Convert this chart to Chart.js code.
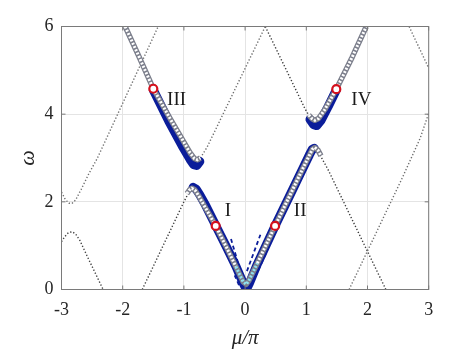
<!DOCTYPE html>
<html><head><meta charset="utf-8">
<script src="https://cdn.jsdelivr.net/npm/chart.js@4.4.1/dist/chart.umd.min.js"></script>
<style>html,body{margin:0;padding:0;background:#fff}</style>
</head><body>
<canvas id="c" width="474" height="355"></canvas>
<script>
// ---- data ----
const xTicks = [-3, -2, -1, 0, 1, 2, 3];
const yTicks = [0, 2, 4, 6];

// thin dotted dispersion curves
const curveLeftUpper = [[-3,2.22],[-2.94,2.06],[-2.88,1.97],[-2.83,1.96],[-2.77,2.04],[-2.68,2.28],[-2.55,2.65],[-2.42,2.98],[-1.42,6.0]];
const curveLeftLower = [[-3,1.09],[-2.95,1.2],[-2.89,1.29],[-2.83,1.32],[-2.77,1.27],[-2.7,1.12],[-2.56,0.7],[-2.32,0.0]];
const curveRiseToPeak = [[-1.68,0],[-1.0,2.0],[-0.94,2.16],[-0.89,2.26],[-0.87,2.3]];
const curveFallFromPeak = [[1.12,3.24],[1.2,3.13],[1.35,2.75],[2.3,0]];
const curveRightRise = [[1.7,0],[2.57,2.55],[2.86,3.45],[3.0,4.02]];
const curveMidRise = [[-0.73,3.0],[-0.62,3.25],[0.33,6.0]];
const curveMidFall = [[0.33,6.0],[0.98,4.12],[1.04,3.98]];
const curveRightTop = [[2.68,6.0],[3.0,5.05]];

// open-circle branches
const chainLower = [[-0.95,2.19],[-0.91,2.27],[-0.87,2.31],[-0.82,2.27],[-0.76,2.14],[-0.68,1.94],[-0.58,1.70],[-0.48,1.45],[-0.30,0.95],[-0.15,0.52],[-0.03,0.17],[0.02,0.12],[0.06,0.2],[0.20,0.6],[0.49,1.45],[0.75,2.2],[0.95,2.78],[1.05,3.06],[1.10,3.2],[1.14,3.24],[1.19,3.18],[1.24,3.05]];
const chainIII = [[-1.96,6.0],[-1.73,5.3],[-1.5,4.58],[-1.23,3.91],[-1.0,3.36],[-0.9,3.12],[-0.83,2.99],[-0.78,2.96],[-0.73,3.0]];
const chainIV = [[1.04,3.98],[1.09,3.9],[1.14,3.86],[1.2,3.9],[1.3,4.1],[1.49,4.57],[1.75,5.3],[1.98,6.0]];

// blue bands
const bandLower = [[-0.85,2.33],[-0.8,2.29],[-0.74,2.16],[-0.66,1.96],[-0.48,1.46],[-0.30,0.96],[-0.15,0.53],[-0.03,0.14],[0.02,0.0],[0.07,0.14],[0.20,0.58],[0.49,1.45],[0.75,2.2],[0.95,2.78],[1.05,3.07],[1.10,3.2],[1.13,3.22]];
const bandIII = [[-1.5,4.55],[-1.25,3.85],[-1.03,3.28],[-0.9,2.97],[-0.84,2.85],[-0.79,2.83],[-0.74,2.92]];
const bandIV = [[1.06,3.88],[1.12,3.76],[1.17,3.74],[1.24,3.86],[1.36,4.18],[1.49,4.55]];

// dashed blue traces near the V
const dashLeftInner = [[-0.05,0.3],[-0.23,1.15]];
const dashRightInner = [[0.03,0.42],[0.25,1.25]];
const dashRightOuter = [[0.12,0.15],[0.36,0.88]];
const dashLeftOuter = [[-0.1,0.1],[-0.17,0.32]];

// red marked points and their labels
const markX = [-0.48, 0.49, -1.5, 1.49];
const markY = [1.45, 1.45, 4.58, 4.57];
const romanText = ['I', 'II', 'III', 'IV'];
const romanX = [-0.28, 0.9, -1.12, 1.9];
const romanY = [1.79, 1.79, 4.33, 4.33];

// ---- build datasets ----
const toPts = a => a.map(p => ({x: p[0], y: p[1]}));
const datasets = [];
function dotted(a, color) {
  datasets.push({data: toPts(a), showLine: true, pointRadius: 0, borderColor: color, borderWidth: 1.4,
    borderDash: [1.3, 2.0], order: 6, clip: 0});
}
[curveLeftUpper, curveRightRise, curveMidRise, curveRightTop].forEach(a => dotted(a, '#6e6e6e'));
[curveLeftLower, curveRiseToPeak, curveFallFromPeak, curveMidFall].forEach(a => dotted(a, '#3c3c3c'));

[bandLower, bandIII, bandIV].forEach(a => datasets.push({data: toPts(a), showLine: true, pointRadius: 0,
  borderColor: '#0b1d9a', borderWidth: 9, borderJoinStyle: 'round', borderCapStyle: 'round', order: 5, clip: 0}));

[dashLeftInner, dashRightInner, dashRightOuter, dashLeftOuter].forEach(a => datasets.push({data: toPts(a), showLine: true,
  pointRadius: 0, borderColor: '#0b1d9a', borderWidth: 1.8, borderDash: [4, 3], order: 4, clip: 0}));

[chainLower, chainIII, chainIV].forEach(a => {
  datasets.push({data: toPts(a), showLine: true, pointRadius: 0, borderColor: '#7c7f8c', borderWidth: 5.5,
    borderJoinStyle: 'round', order: 3, clip: 0});
  datasets.push({data: toPts(a), showLine: true, pointRadius: 0, borderColor: '#ffffff', borderWidth: 3,
    borderDash: [2, 1.6], order: 2, clip: 0,
    segment: {borderColor: c => (c.p0.parsed.y < 0.8 && c.p1.parsed.y < 0.8) ? '#8fe3f2' : '#ffffff'}});
});

datasets.push({data: markX.map((x, i) => ({x, y: markY[i]})), showLine: false, pointRadius: 4, pointBorderWidth: 2.2,
  pointBorderColor: '#d4101c', pointBackgroundColor: '#ffffff', order: 0, clip: false});

// ---- frame, inward ticks and roman labels ----
const framePlugin = {
  id: 'frame',
  afterDatasetsDraw(chart) {
    const {ctx, chartArea: a, scales: {x, y}} = chart;
    ctx.save();
    ctx.strokeStyle = '#7a7a7a';
    ctx.lineWidth = 1;
    ctx.beginPath();
    xTicks.forEach(v => {
      const px = x.getPixelForValue(v);
      ctx.moveTo(px, a.bottom); ctx.lineTo(px, a.bottom - 4);
      ctx.moveTo(px, a.top); ctx.lineTo(px, a.top + 4);
    });
    yTicks.forEach(v => {
      const py = y.getPixelForValue(v);
      ctx.moveTo(a.left, py); ctx.lineTo(a.left + 4, py);
      ctx.moveTo(a.right, py); ctx.lineTo(a.right - 4, py);
    });
    ctx.stroke();
    ctx.strokeRect(a.left, a.top, a.right - a.left, a.bottom - a.top);
    ctx.fillStyle = '#1a1a1a';
    ctx.font = '19px "Liberation Serif"';
    ctx.textAlign = 'center';
    ctx.textBaseline = 'middle';
    romanText.forEach((t, i) => ctx.fillText(t, x.getPixelForValue(romanX[i]), y.getPixelForValue(romanY[i])));
    ctx.restore();
  }
};

new Chart(document.getElementById('c'), {
  type: 'scatter',
  data: {datasets},
  options: {
    responsive: false,
    animation: false,
    events: [],
    layout: {padding: {left: 0, right: 45.3, top: 26.5, bottom: 0}},
    plugins: {legend: {display: false}, tooltip: {enabled: false}},
    scales: {
      x: {
        type: 'linear', min: -3, max: 3,
        afterBuildTicks: s => { s.ticks = xTicks.map(v => ({value: v})); },
        ticks: {color: '#262626', font: {family: 'Liberation Serif', size: 18}, padding: 10, maxRotation: 0,
          callback: v => String(v)},
        grid: {color: '#e4e4e4', drawTicks: false},
        border: {display: false},
        title: {display: true, text: 'μ/π', color: '#262626',
          font: {family: 'Liberation Serif', size: 21, style: 'italic'}, padding: {top: 0, bottom: 4}},
        afterFit: s => { s.height = 65.5; }
      },
      y: {
        type: 'linear', min: 0, max: 6,
        afterBuildTicks: s => { s.ticks = yTicks.map(v => ({value: v})); },
        ticks: {color: '#262626', font: {family: 'Liberation Serif', size: 18}, padding: 8,
          callback: v => String(v)},
        grid: {color: '#e4e4e4', drawTicks: false},
        border: {display: false},
        title: {display: true, text: 'ω', color: '#262626',
          font: {family: 'Liberation Serif', size: 22, style: 'italic'}, padding: {top: 15, bottom: 0}},
        afterFit: s => { s.width = 61.5; }
      }
    }
  },
  plugins: [framePlugin]
});
</script>
</body></html>
